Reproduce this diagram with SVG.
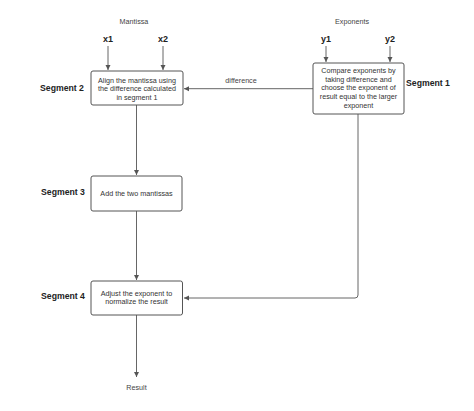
<svg xmlns="http://www.w3.org/2000/svg" width="474" height="411" viewBox="0 0 474 411">
<style>
.box{fill:#fff;stroke:#555;stroke-width:1;}
.t{font-family:"Liberation Sans",Arial,sans-serif;font-size:7.2px;fill:#333;text-anchor:middle;}
.lbl{font-family:"Liberation Sans",Arial,sans-serif;font-size:7.2px;fill:#444;text-anchor:middle;}
.seg{font-family:"Liberation Sans",Arial,sans-serif;font-size:8.7px;font-weight:bold;fill:#222;}
.var{font-family:"Liberation Sans",Arial,sans-serif;font-size:9px;font-weight:bold;fill:#222;text-anchor:middle;}
.c{fill:none;stroke:#666;stroke-width:1;}
</style>
<defs>
<marker id="ah" markerWidth="6" markerHeight="6" refX="5" refY="3" orient="auto" markerUnits="userSpaceOnUse">
<path d="M0,0.5 L5,3 L0,5.5 Z" fill="#555"/>
</marker>
</defs>
<rect width="474" height="411" fill="#fff"/>
<text class="lbl" x="134" y="24">Mantissa</text>
<text class="lbl" x="352" y="24">Exponents</text>
<text class="var" x="108" y="42">x1</text>
<text class="var" x="163" y="42">x2</text>
<text class="var" x="326" y="42">y1</text>
<text class="var" x="390" y="42">y2</text>
<g id="connectors">
<path class="c" d="M108,46 V70" marker-end="url(#ah)"/>
<path class="c" d="M163,46 V70" marker-end="url(#ah)"/>
<path class="c" d="M326,46 V62" marker-end="url(#ah)"/>
<path class="c" d="M390,46 V62" marker-end="url(#ah)"/>
<path class="c" d="M313,88.7 H184" marker-end="url(#ah)"/>
<text class="lbl" x="241" y="83">difference</text>
<path class="c" d="M358,114 V295 Q358,298 355,298 H184" marker-end="url(#ah)"/>
<path class="c" d="M136.5,105 V175" marker-end="url(#ah)"/>
<path class="c" d="M136.5,211 V280" marker-end="url(#ah)"/>
<path class="c" d="M136.5,315 V377" marker-end="url(#ah)"/>
</g>
<g id="seg2">
<rect class="box" x="91" y="71" width="92" height="34" rx="2"/>
<text class="t" x="137" y="82.5">Align the mantissa using</text>
<text class="t" x="137" y="91">the difference calculated</text>
<text class="t" x="137" y="99.5">in segment 1</text>
<text class="seg" x="40" y="91">Segment 2</text>
</g>
<g id="seg1">
<rect class="box" x="313" y="63" width="91" height="51" rx="2"/>
<text class="t" x="358.5" y="73">Compare exponents by</text>
<text class="t" x="358.5" y="81.7">taking difference and</text>
<text class="t" x="358.5" y="90.4">choose the exponent of</text>
<text class="t" x="358.5" y="99.1">result equal to the larger</text>
<text class="t" x="358.5" y="107.8">exponent</text>
<text class="seg" x="406" y="86">Segment 1</text>
</g>
<g id="seg3">
<rect class="box" x="91" y="176" width="91" height="35" rx="2"/>
<text class="t" x="136.5" y="196">Add the two mantissas</text>
<text class="seg" x="41" y="195">Segment 3</text>
</g>
<g id="seg4">
<rect class="box" x="91" y="281" width="91.5" height="34" rx="2"/>
<text class="t" x="136.5" y="295.5">Adjust the exponent to</text>
<text class="t" x="136.5" y="304">normalize the result</text>
<text class="seg" x="41" y="299">Segment 4</text>
</g>
<g id="result">
<text class="lbl" x="136.5" y="389.5">Result</text>
</g>
</svg>
